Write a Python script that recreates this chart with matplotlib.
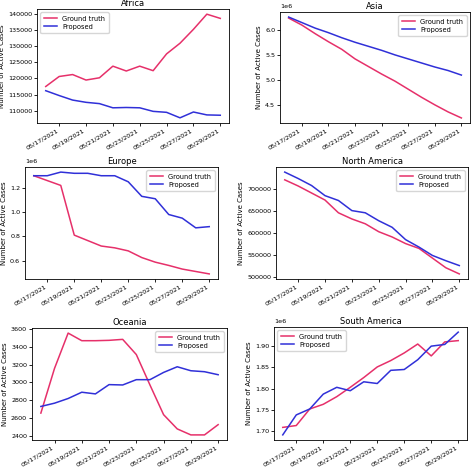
import pandas as pd
import numpy as np
import matplotlib
matplotlib.use("Agg")
import matplotlib.pyplot as plt
import matplotlib.dates as mdates

# Datas (14 dias)
dates = ["2021-05-16", "2021-05-17", "2021-05-18", "2021-05-19", "2021-05-20",
         "2021-05-21", "2021-05-22", "2021-05-23", "2021-05-24", "2021-05-25",
         "2021-05-26", "2021-05-27", "2021-05-28", "2021-05-29"]

africa_gt = [117500, 120600, 121200, 119500, 120200, 123800, 122300, 123800,
             122400, 127600, 130900, 135200, 139900, 138600]
africa_pr = [116200, 114700, 113300, 112600, 112200, 110900, 111000, 110900,
             109800, 109500, 107800, 109600, 108700, 108600]

asia_gt = [6.23e6, 6.09e6, 5.92e6, 5.76e6, 5.61e6, 5.42e6, 5.27e6, 5.12e6,
           4.98e6, 4.82e6, 4.66e6, 4.51e6, 4.37e6, 4.25e6]
asia_pr = [6.25e6, 6.14e6, 6.03e6, 5.94e6, 5.84e6, 5.75e6, 5.67e6, 5.59e6,
           5.50e6, 5.42e6, 5.34e6, 5.26e6, 5.19e6, 5.10e6]

europe_gt = [1.30e6, 1.26e6, 1.22e6, 0.81e6, 0.765e6, 0.72e6, 0.705e6, 0.68e6,
             0.625e6, 0.587e6, 0.56e6, 0.53e6, 0.51e6, 0.49e6]
europe_pr = [1.30e6, 1.30e6, 1.33e6, 1.32e6, 1.32e6, 1.30e6, 1.30e6, 1.25e6,
             1.13e6, 1.11e6, 0.98e6, 0.95e6, 0.87e6, 0.88e6]

namerica_gt = [720000, 706000, 690000, 674000, 645000, 631000, 620000, 602000,
               590000, 575000, 564000, 542000, 520000, 506000]
namerica_pr = [737600, 723000, 707000, 684000, 673000, 650000, 645000, 627000,
               612000, 584000, 567000, 548000, 536000, 525000]

oceania_gt = [2654, 3159, 3559, 3473, 3473, 3477, 3488, 3316, 2972, 2636,
              2475, 2407, 2407, 2523]
oceania_pr = [2729, 2766, 2819, 2890, 2871, 2976, 2972, 3032, 3032, 3114,
              3178, 3133, 3122, 3088]

samerica_gt = [1.7086e6, 1.713e6, 1.752e6, 1.763e6, 1.781e6, 1.803e6, 1.826e6,
               1.851e6, 1.866e6, 1.884e6, 1.905e6, 1.877e6, 1.910e6, 1.913e6]
samerica_pr = [1.691e6, 1.738e6, 1.752e6, 1.787e6, 1.803e6, 1.795e6, 1.816e6,
               1.812e6, 1.843e6, 1.845e6, 1.868e6, 1.900e6, 1.904e6, 1.933e6]

# (titulo, gt, proposto, posicao da legenda, caixa em pixels: esq, topo, dir, baixo)
panels = [
    ("Africa", africa_gt, africa_pr, "upper left", (37, 9, 229, 123)),
    ("Asia", asia_gt, asia_pr, "upper right", (280, 12, 470, 123)),
    ("Europe", europe_gt, europe_pr, "upper right", (25, 167, 218, 279)),
    ("North America", namerica_gt, namerica_pr, "upper right", (276, 167, 468, 279)),
    ("Oceania", oceania_gt, oceania_pr, "upper right", (32, 328, 227, 440)),
    ("South America", samerica_gt, samerica_pr, "upper left", (274, 327, 467, 440)),
]

W, H = 474, 468
x = pd.to_datetime(dates)

fig = plt.figure(figsize=(W / 100, H / 100), dpi=100)

for title, gt, pr, loc, (l, t, r, b) in panels:
    ax = fig.add_axes([l / W, 1 - b / H, (r - l) / W, (b - t) / H])
    ax.plot(x, gt, color="#e6306a", lw=1.1, label="Ground truth")
    ax.plot(x, pr, color="#3030d8", lw=1.1, label="Proposed")
    ax.set_title(title, fontsize=6, pad=2)
    ax.set_ylabel("Number of Active Cases", fontsize=5, labelpad=2)
    ax.xaxis.set_major_locator(mdates.DayLocator(bymonthday=[17, 19, 21, 23, 25, 27, 29]))
    ax.xaxis.set_major_formatter(mdates.DateFormatter("%m/%d/%Y"))
    ax.tick_params(labelsize=4.6, length=2, width=0.6, pad=1.5)
    for lab in ax.get_xticklabels():
        lab.set_rotation(30)
        lab.set_ha("right")
    if title in ("Africa", "North America", "Oceania"):
        ax.ticklabel_format(axis="y", style="plain", useOffset=False)
    ax.yaxis.get_offset_text().set_fontsize(4.6)
    for s in ax.spines.values():
        s.set_linewidth(0.6)
    ax.legend(loc=loc, fontsize=4.8, handlelength=2.0, borderpad=0.5,
              labelspacing=0.3, frameon=True)

fig.savefig("out.png", dpi=100)
